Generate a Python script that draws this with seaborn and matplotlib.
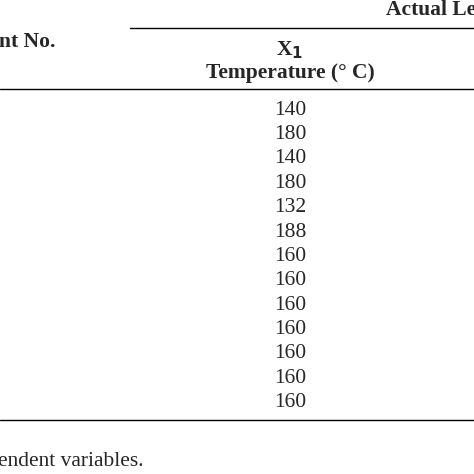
import matplotlib
matplotlib.use('Agg')
import matplotlib.pyplot as plt
import seaborn as sns

# 表格内容
header_top = 'Actual Le'
header_left = 'nt No.'
col_var = 'X$_\\mathbf{1}$'
col_name = 'Temperature (° C)'
temperatures = [140, 180, 140, 180, 132, 188, 160, 160, 160, 160, 160, 160, 160]
footnote = 'endent variables.'

sns.set_style('white')
plt.rcParams['font.family'] = ['Liberation Serif', 'DejaVu Serif']

fig = plt.figure(figsize=(4.74, 4.74), dpi=100)
ax = fig.add_axes([0, 0, 1, 1])
ax.set_xlim(0, 474)
ax.set_ylim(474, 0)
ax.axis('off')

fs = 15.5
ax.text(476, 10, header_top, ha='right', va='center', fontsize=fs, fontweight='bold')
ax.text(56, 42, header_left, ha='right', va='center', fontsize=fs, fontweight='bold')
ax.plot([130, 474], [28, 28], color='black', lw=1)
ax.text(290, 50, col_var, ha='center', va='center', fontsize=fs, fontweight='bold')
ax.text(290, 73, col_name, ha='center', va='center', fontsize=fs, fontweight='bold')
ax.plot([0, 474], [89, 89], color='black', lw=1)

row_y0 = 110
row_h = 24.4
for i, t in enumerate(temperatures):
    ax.text(290, row_y0 + i * row_h, str(t), ha='center', va='center', fontsize=fs)

ax.plot([0, 474], [420, 420], color='black', lw=1)
ax.text(-2, 461, footnote, ha='left', va='center', fontsize=fs)

fig.savefig('out.png', dpi=100)
